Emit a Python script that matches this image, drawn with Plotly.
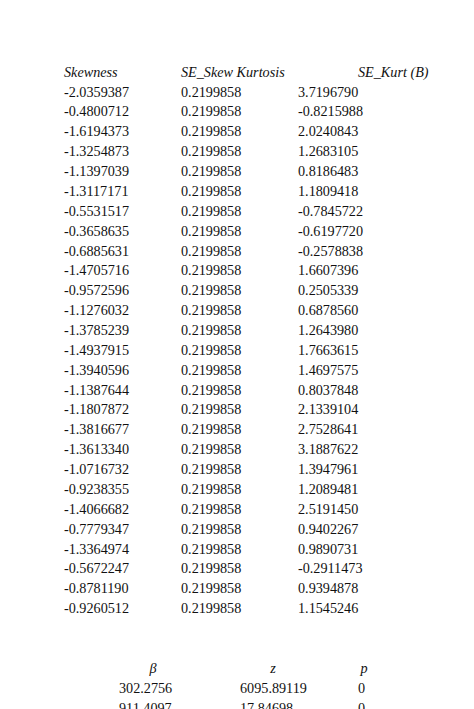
import plotly.graph_objects as go

variables = ["CSO1","CSO2","CSO3","CSO4","CSO5","CSO6","CMO1","CMO2","CMO3","BO1","BO2","BO3","BO4",
             "SI1","SI2","SI3","CP1","CP2","CP3","EP1","EP2","EP3","EP4","EP5","FP1","FP2","FP3"]
skewness = ["-2.0359387","-0.4800712","-1.6194373","-1.3254873","-1.1397039","-1.3117171","-0.5531517",
            "-0.3658635","-0.6885631","-1.4705716","-0.9572596","-1.1276032","-1.3785239","-1.4937915",
            "-1.3940596","-1.1387644","-1.1807872","-1.3816677","-1.3613340","-1.0716732","-0.9238355",
            "-1.4066682","-0.7779347","-1.3364974","-0.5672247","-0.8781190","-0.9260512"]
se_skew = ["0.2199858"] * 27
kurtosis = ["3.7196790","-0.8215988","2.0240843","1.2683105","0.8186483","1.1809418","-0.7845722",
            "-0.6197720","-0.2578838","1.6607396","0.2505339","0.6878560","1.2643980","1.7663615",
            "1.4697575","0.8037848","2.1339104","2.7528641","3.1887622","1.3947961","1.2089481",
            "2.5191450","0.9402267","0.9890731","-0.2911473","0.9394878","1.1545246"]
se_kurt = ["0.4365851"] * 27
mardia_rows = ["Skewness", "Kurtosis"]
mardia_beta = ["302.2756", "911.4097"]
mardia_z = ["6095.89119", "17.84698"]
mardia_p = ["0", "0"]

W, H = 474, 709
FONT = dict(family="Liberation Serif, serif", size=14.2, color="#111")
IFONT = dict(family="Liberation Serif, serif", size=14.2, color="#111", style="italic")

row0, dy = 85.0, 19.87
ys = [row0 + i * dy for i in range(len(variables))]

fig = go.Figure()
def col(xpos, texts, yvals, pos="middle right", font=FONT):
    fig.add_trace(go.Scatter(x=[xpos]*len(texts), y=yvals, mode="text", text=texts,
                             textposition=pos, textfont=font, hoverinfo="skip",
                             showlegend=False, cliponaxis=False))

col(-3, ["Sample size:  121", "Number of observed variables:  27", "Univariate Skewness and Kurtosis"], [12, 28, 46])
col(56, ["Skewness"], [65], font=IFONT)
col(173, ["SE_Skew Kurtosis"], [65], font=IFONT)
col(350, ["SE_Kurt (B)"], [65], font=IFONT)
col(-3, variables, ys)
col(56, skewness, ys)
col(173, se_skew, ys)
col(290, kurtosis, ys)
col(477, se_kurt, ys, pos="middle left")

col(-3, ["Mardia's Multivariate Skewness and Kurtosis"], [640])
col(145, ["β"], [661], pos="middle center", font=IFONT)
col(265, ["z"], [661], pos="middle center", font=IFONT)
col(356, ["p"], [661], pos="middle center", font=IFONT)
my = [681, 701]
col(-3, mardia_rows, my)
col(111, mardia_beta, my)
col(232, mardia_z, my)
col(350, mardia_p, my)

fig.update_layout(width=W, height=H, margin=dict(l=0, r=0, t=0, b=0),
                  paper_bgcolor="white", plot_bgcolor="white",
                  xaxis=dict(range=[0, W], visible=False, fixedrange=True),
                  yaxis=dict(range=[H, 0], visible=False, fixedrange=True))
fig.write_html("out.html", config={"displayModeBar": False})
